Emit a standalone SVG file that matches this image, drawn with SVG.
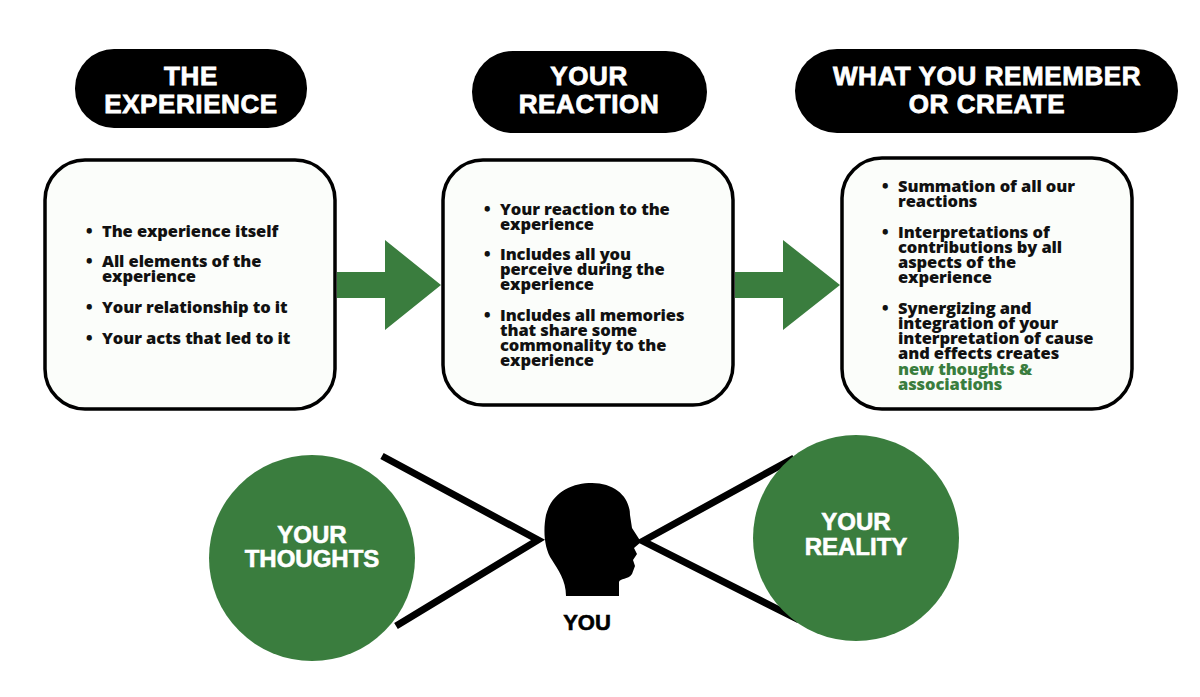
<svg xmlns="http://www.w3.org/2000/svg" width="1200" height="697" viewBox="0 0 1200 697">
<style>
.pill{fill:#000}
.pt{font-family:"Liberation Sans",Arial,sans-serif;font-weight:bold;font-size:26px;fill:#fff;stroke:#fff;stroke-width:0.8;letter-spacing:0.6px;text-anchor:middle}
.box{fill:#fbfdfa;stroke:#000;stroke-width:3.5}
.bt{font-family:"Open Sans","Liberation Sans",sans-serif;font-weight:800;font-size:16.5px;fill:#111;letter-spacing:-0.1px}
.g{fill:#3a7d3e}
.ct{font-family:"Liberation Sans",Arial,sans-serif;font-weight:bold;font-size:24px;fill:#fff;stroke:#fff;stroke-width:0.6;text-anchor:middle}
.ln{stroke:#000;stroke-width:7;fill:none}
</style>
<rect width="1200" height="697" fill="#fff"/>
<g id="title1"><rect class="pill" x="75" y="49" width="232" height="79" rx="39"/><text class="pt" x="191" y="85">THE</text><text class="pt" x="191" y="113">EXPERIENCE</text></g>
<g id="title2"><rect class="pill" x="472" y="51" width="235" height="82" rx="41"/><text class="pt" x="589" y="85">YOUR</text><text class="pt" x="589" y="113">REACTION</text></g>
<g id="title3"><rect class="pill" x="795" y="49" width="383" height="84" rx="42"/><text class="pt" x="987" y="85">WHAT YOU REMEMBER</text><text class="pt" x="987" y="113">OR CREATE</text></g>
<g id="box1"><rect class="box" x="45" y="160" width="290" height="249" rx="40"/>
<text class="bt"><tspan x="86" y="237">•</tspan><tspan x="102" y="237">The experience itself</tspan><tspan x="86" y="267">•</tspan><tspan x="102" y="267">All elements of the</tspan><tspan x="102" y="282">experience</tspan><tspan x="86" y="313">•</tspan><tspan x="102" y="313">Your relationship to it</tspan><tspan x="86" y="344">•</tspan><tspan x="102" y="344">Your acts that led to it</tspan></text></g>
<g id="box2"><rect class="box" x="443" y="160" width="290" height="245" rx="40"/>
<text class="bt"><tspan x="484" y="215">•</tspan><tspan x="500" y="215">Your reaction to the</tspan><tspan x="500" y="230">experience</tspan><tspan x="484" y="260">•</tspan><tspan x="500" y="260">Includes all you</tspan><tspan x="500" y="275">perceive during the</tspan><tspan x="500" y="290">experience</tspan><tspan x="484" y="321">•</tspan><tspan x="500" y="321">Includes all memories</tspan><tspan x="500" y="336">that share some</tspan><tspan x="500" y="351">commonality to the</tspan><tspan x="500" y="366">experience</tspan></text></g>
<g id="box3"><rect class="box" x="842" y="158" width="290" height="251" rx="40"/>
<text class="bt"><tspan x="882" y="192">•</tspan><tspan x="898" y="192">Summation of all our</tspan><tspan x="898" y="207">reactions</tspan><tspan x="882" y="238">•</tspan><tspan x="898" y="238">Interpretations of</tspan><tspan x="898" y="253">contributions by all</tspan><tspan x="898" y="268">aspects of the</tspan><tspan x="898" y="283">experience</tspan><tspan x="882" y="314">•</tspan><tspan x="898" y="314">Synergizing and</tspan><tspan x="898" y="329">integration of your</tspan><tspan x="898" y="344">interpretation of cause</tspan><tspan x="898" y="359">and effects creates</tspan><tspan x="898" y="375" fill="#3a7d3e">new thoughts &amp;</tspan><tspan x="898" y="390" fill="#3a7d3e">associations</tspan></text></g>
<g id="connectors">
<polygon class="g" points="337,272 385,272 385,240 441,285 385,330 385,298 337,298"/>
<polygon class="g" points="735,272 783,272 783,240 840,285 783,330 783,298 735,298"/>
<path class="ln" d="M382,456 L538,540 L396,626"/>
<path class="ln" d="M794,458 L643,541 L799,620"/>
</g>
<g id="thoughts"><circle class="g" cx="312" cy="558" r="103"/><text class="ct" x="312" y="543">YOUR</text><text class="ct" x="312" y="567">THOUGHTS</text></g>
<g id="reality"><circle class="g" cx="856" cy="538" r="103"/><text class="ct" x="856" y="530">YOUR</text><text class="ct" x="856" y="555">REALITY</text></g>
<g id="you"><path fill="#000" d="M566,596 C566,580 558,570 552,560 C544,548 543,530 546,515 C552,492 572,483 592,483 C615,483 630,497 630,515 L632,528 L641,542 L634,548 L637,554 L633,560 L635,566 L632,574 C628,580 620,578 619,582 L619,596 Z"/>
<text x="587" y="630" font-family="Liberation Sans,Arial,sans-serif" font-weight="bold" font-size="22" text-anchor="middle" stroke="#000" stroke-width="0.6">YOU</text></g>
</svg>
